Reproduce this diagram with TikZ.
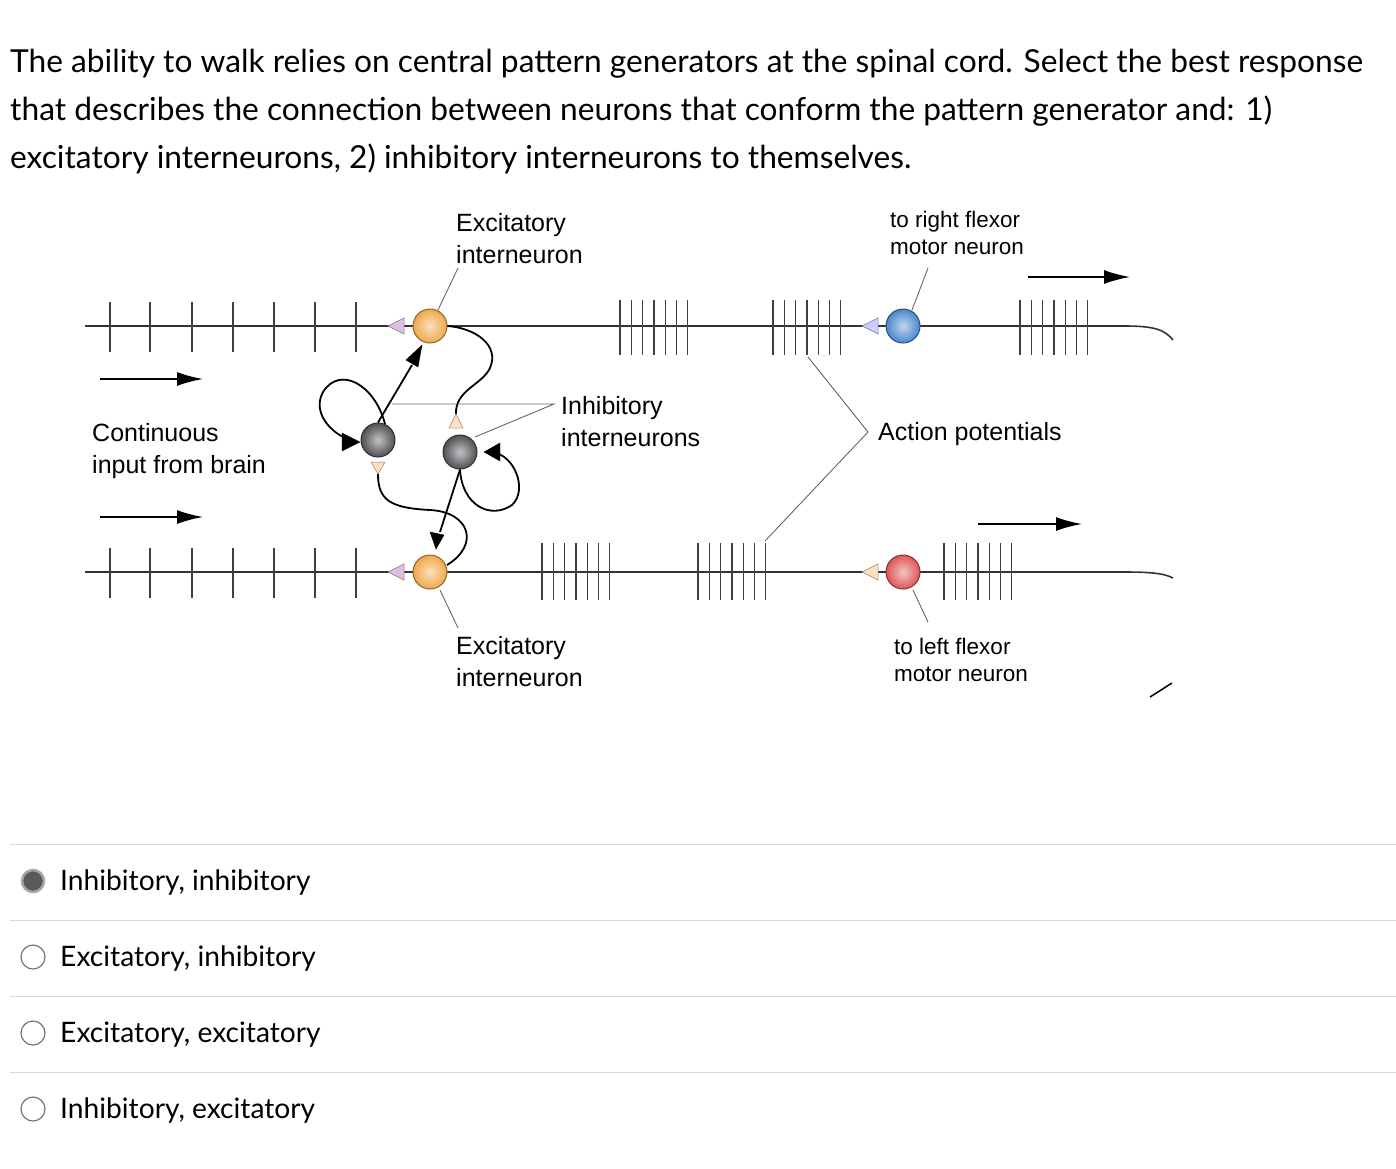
\documentclass[tikz,border=0pt]{standalone}
\usepackage{fontspec}
\setmainfont{Lato}
\newfontfamily\lab{Liberation Sans}
\usetikzlibrary{arrows.meta}
\definecolor{cOr}{RGB}{240,168,75}
\definecolor{cBl}{RGB}{75,135,205}
\definecolor{cRd}{RGB}{222,85,85}
\definecolor{cGr}{RGB}{80,80,85}
\colorlet{tPu}{violet!25}
\colorlet{tBl}{blue!20}
\colorlet{tOr}{orange!25}
\begin{document}
\begin{tikzpicture}[x=1pt,y=-1pt,
  q/.style={anchor=base west,inner sep=0,font=\fontsize{31.7}{36}\selectfont},
  an/.style={anchor=base west,inner sep=0,font=\fontsize{28.2}{34}\selectfont},
  lb/.style={anchor=base west,inner sep=0,font=\lab\fontsize{25}{29}\selectfont},
  sl/.style={anchor=base west,inner sep=0,font=\lab\fontsize{22.5}{26}\selectfont},
  ax/.style={line width=1.6pt,black!80},
  tk/.style={line width=1.2pt,black!75},
  lead/.style={line width=0.9pt,black!60},
  cell/.style={circle,minimum size=34pt,inner sep=0,draw=#1!60!black,line width=1pt,inner color=#1!35!white,outer color=#1},
  tri/.style={fill=#1,draw=#1!60!black,line width=0.5pt},
  conn/.style={line width=1.8pt,black},
  sep/.style={line width=1pt,black!15},
  arr/.style={line width=1.8pt,-{Latex[length=26pt,width=14pt]}}]
\useasboundingbox (0,0) rectangle (1396,1168);
\node[q] at (10,72) {The ability to walk relies on central pattern generators at the spinal cord. Select the best response};
\node[q] at (10,120) {that describes the connection between neurons that conform the pattern generator and: 1)};
\node[q] at (10,168) {excitatory interneurons, 2) inhibitory interneurons to themselves.};
% axons
\draw[ax] (85,326) -- (1125,326) .. controls (1155,326) and (1165,330) .. (1173,340);
\draw[ax] (85,572) -- (1125,572) .. controls (1155,572) and (1165,574) .. (1173,578);
\foreach \x in {110,150,192,233,274,315,356} {\draw[tk] (\x,302) -- (\x,352); \draw[tk] (\x,548) -- (\x,598);}
\foreach \s in {620,773,1020} {\foreach \i in {0,...,6} \draw[tk] (\s+\i*11.3,300) -- (\s+\i*11.3,355);}
\foreach \s in {542,698,944} {\foreach \i in {0,...,6} \draw[tk] (\s+\i*11.3,543) -- (\s+\i*11.3,600);}
% synapse triangles
\draw[tri=tPu] (388,326) -- (404,318) -- (404,334) -- cycle;
\draw[tri=tPu] (388,572) -- (404,564) -- (404,580) -- cycle;
\draw[tri=tBl] (862,326) -- (878,318) -- (878,334) -- cycle;
\draw[tri=tOr] (862,572) -- (878,564) -- (878,580) -- cycle;
% cells
\node[cell=cOr] (et) at (430,326) {};
\node[cell=cOr] (eb) at (430,572) {};
\node[cell=cBl] (mr) at (903,326) {};
\node[cell=cRd] (ml) at (903,572) {};
\node[cell=cGr] (il) at (378,440) {};
\node[cell=cGr] (ir) at (460,452) {};
% connections
\draw[conn] (et.east) .. controls (475,328) and (500,345) .. (490,368) .. controls (482,385) and (455,390) .. (456,414);
\draw[tri=tOr] (456,414) -- (449,428) -- (463,428) -- cycle;
\draw[conn] (il.north) -- (412,365);
\draw[fill=black] (422,345) -- (406,360) -- (418,367) -- cycle;
\draw[conn] (385,424) .. controls (375,385) and (340,365) .. (323,392) .. controls (312,412) and (330,433) .. (350,440);
\draw[fill=black] (360,442) -- (342,433) -- (342,451) -- cycle;
\draw[tri=tOr] (378,474) -- (371,462) -- (385,462) -- cycle;
\draw[conn] (378,474) .. controls (378,500) and (390,508) .. (430,510) .. controls (470,512) and (480,545) .. (447,565);
\draw[conn] (ir.south) -- (440,532);
\draw[fill=black] (436,549) -- (430,532) -- (444,535) -- cycle;
\draw[conn] (ir.south) .. controls (462,505) and (490,520) .. (512,505) .. controls (528,490) and (515,455) .. (492,452);
\draw[fill=black] (484,452) -- (500,443) -- (500,461) -- cycle;
% arrows
\draw[arr] (100,379) -- (203,379);
\draw[arr] (100,517) -- (203,517);
\draw[arr] (1028,277) -- (1130,277);
\draw[arr] (978,524) -- (1082,524);
% labels
\node[lb] at (456,231) {Excitatory};
\node[lb] at (456,263) {interneuron};
\draw[lead] (458,268) -- (438,310);
\node[lb] at (456,654) {Excitatory};
\node[lb] at (456,686) {interneuron};
\draw[lead] (440,590) -- (458,628);
\node[sl] at (890,227) {to right flexor};
\node[sl] at (890,254) {motor neuron};
\draw[lead] (928,268) -- (912,310);
\node[sl] at (894,654) {to left flexor};
\node[sl] at (894,681) {motor neuron};
\draw[lead] (913,590) -- (928,622);
\node[lb] at (561,414) {Inhibitory};
\node[lb] at (561,446) {interneurons};
\draw[lead] (392,404) -- (554,404) -- (475,437);
\node[lb] at (878,440) {Action potentials};
\draw[lead] (808,357) -- (868,432) -- (765,541);
\node[lb] at (92,441) {Continuous};
\node[lb] at (92,473) {input from brain};
\draw[line width=1.5pt] (1150,697) -- (1172,683);
% answers
\foreach \y in {844,920,996,1072} \draw[sep] (10,\y) -- (1396,\y);
\draw[line width=2.5pt,black!35,fill=black!65] (33,881) circle (11);
\foreach \y in {957,1033,1109} \draw[line width=1.2pt,black!55] (33,\y) circle (12);
\node[an] at (60,890) {Inhibitory, inhibitory};
\node[an] at (60,966) {Excitatory, inhibitory};
\node[an] at (60,1042) {Excitatory, excitatory};
\node[an] at (60,1118) {Inhibitory, excitatory};
\end{tikzpicture}
\end{document}
